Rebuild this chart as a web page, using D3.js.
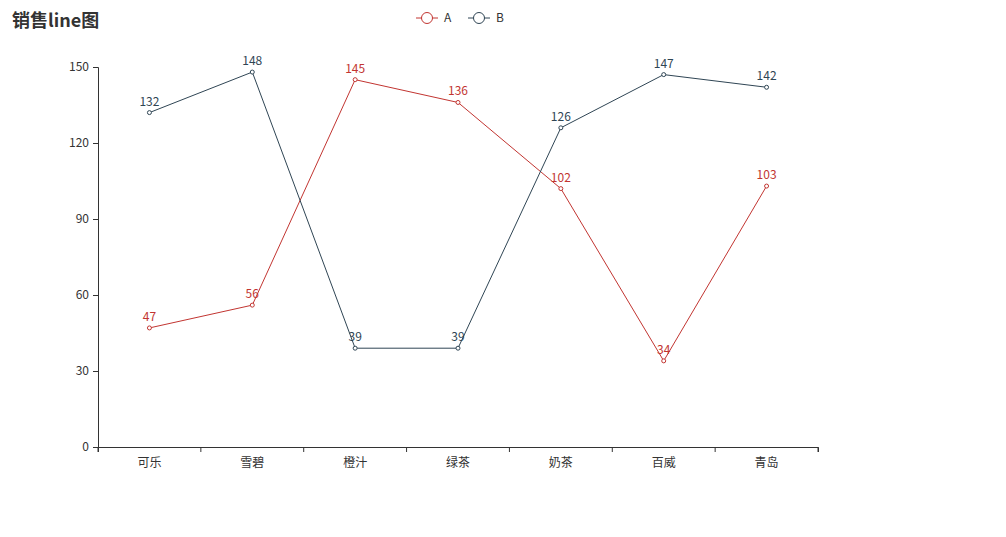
<!DOCTYPE html><html><head><meta charset="utf-8"><script src="https://cdn.jsdelivr.net/npm/d3@7"></script>
<style>body{margin:0;background:#fff}text{font-family:"Microsoft YaHei","Noto Sans CJK SC",sans-serif}</style></head><body>
<svg id="c" width="1006" height="537"></svg>
<script>
const categories=["可乐","雪碧","橙汁","绿茶","奶茶","百威","青岛"];
const seriesA=[47,56,145,136,102,34,103];
const seriesB=[132,148,39,39,126,147,142];
const yTicks=[0,30,60,90,120,150];
const series=[{name:"A",values:seriesA,color:"#c23531"},{name:"B",values:seriesB,color:"#2f4554"}];
const svg=d3.select("#c");
const x=d3.scaleBand().domain(categories).range([98,818]);
const y=d3.scaleLinear().domain([0,150]).range([447,67]);
svg.append("text").attr("x",12).attr("y",27).attr("font-size",18).attr("font-weight","bold").attr("fill","#333").text("销售line图");
const yAx=svg.append("g").attr("transform","translate(98,0)").call(d3.axisLeft(y).tickValues(yTicks).tickSize(5).tickPadding(4));
const xAx=svg.append("g").attr("transform","translate(0,447)").call(d3.axisBottom(x).tickSize(5).tickPadding(6).tickSizeOuter(5));
// x ticks at band boundaries
xAx.selectAll(".tick line").attr("transform",`translate(${x.bandwidth()/2},0)`);
xAx.append("line").attr("x1",98).attr("x2",98).attr("y1",0).attr("y2",5).attr("stroke","#333");
[yAx,xAx].forEach(g=>{g.selectAll("text").attr("font-size",12).attr("fill","#333");g.selectAll("line,path").attr("stroke","#333");});
const line=d3.line().x((d,i)=>x(categories[i])+x.bandwidth()/2).y(d=>y(d));
series.forEach(s=>{
 svg.append("path").attr("d",line(s.values)).attr("fill","none").attr("stroke",s.color).attr("stroke-width",1);
 svg.selectAll(null).data(s.values).enter().append("circle").attr("cx",(d,i)=>x(categories[i])+x.bandwidth()/2).attr("cy",d=>y(d)).attr("r",2).attr("fill","#fff").attr("stroke",s.color);
 svg.selectAll(null).data(s.values).enter().append("text").attr("x",(d,i)=>x(categories[i])+x.bandwidth()/2).attr("y",d=>y(d)-7).attr("text-anchor","middle").attr("font-size",12).attr("fill",s.color).text(d=>d);
});
const lg=svg.append("g");
series.forEach((s,i)=>{
 const x0=416+i*52;
 lg.append("line").attr("x1",x0).attr("x2",x0+22).attr("y1",18).attr("y2",18).attr("stroke",s.color);
 lg.append("circle").attr("cx",x0+11).attr("cy",18).attr("r",5.5).attr("fill","#fff").attr("stroke",s.color);
 lg.append("text").attr("x",x0+28).attr("y",22).attr("font-size",12).attr("fill","#333").text(s.name);
});
</script></body></html>
